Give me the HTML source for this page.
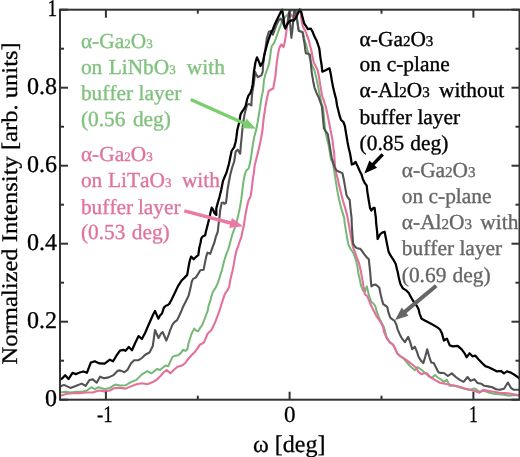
<!DOCTYPE html>
<html><head><meta charset="utf-8"><style>
html,body{margin:0;padding:0;background:#fff;}
svg{display:block;}
text{font-family:"Liberation Serif","DejaVu Serif",serif;font-kerning:none;text-rendering:geometricPrecision;stroke-width:0.35px;}
.lab text{stroke-width:0.3px;}
</style></head><body>
<svg width="520" height="457" viewBox="0 0 520 457">
<rect width="520" height="457" fill="#fff"/>
<g fill="none" stroke-linejoin="round" stroke-linecap="round">
<polyline points="60.7,392.5 65.2,391.8 70.5,392.5 77.0,391.8 82.3,391.8 86.9,390.5 91.5,387.2 94.8,389.2 98.7,387.2 104.6,389.2 109.9,387.9 115.1,384.6 120.0,385.5 125.5,385.3 130.9,382.1 136.4,379.9 141.9,374.4 147.4,371.1 151.7,373.3 157.2,368.9 160.0,370.0 163.3,367.3 165.5,365.6 168.2,366.2 170.4,361.3 172.6,356.9 175.3,355.8 178.1,355.2 180.8,353.1 183.0,349.8 185.7,350.9 187.4,349.2 188.4,343.8 190.1,338.3 191.5,334.0 192.8,331.2 194.4,328.6 196.1,330.6 198.1,331.2 200.0,328.0 202.0,325.3 204.0,320.7 205.9,315.5 207.9,310.2 208.4,306.4 210.2,301.2 211.5,295.9 212.8,292.0 215.4,288.1 218.0,282.8 220.0,276.2 222.0,269.7 223.9,261.8 225.9,255.2 228.0,250.0 229.5,245.1 231.2,238.6 232.7,233.3 234.7,228.1 236.7,221.5 238.3,214.9 240.0,207.1 241.3,199.2 242.4,190.0 243.5,181.2 244.8,174.6 246.2,170.7 248.8,168.1 250.1,162.8 251.4,154.9 252.7,145.7 254.0,137.9 256.1,130.0 257.6,122.5 258.9,114.6 260.2,106.7 261.5,97.6 263.1,90.0 264.0,80.0 265.5,74.0 266.6,71.0 268.8,64.9 270.1,57.0 271.0,50.0 271.8,45.8 273.7,43.7 275.8,38.8 277.9,32.5 280.0,26.9 282.1,21.3 284.2,18.5 286.3,15.7 288.4,13.6 290.5,11.0 292.0,10.5 294.0,10.5 296.0,14.0 297.5,22.0 298.5,30.0 300.7,31.5 303.0,33.0 304.5,40.0 305.9,44.0 307.2,49.2 308.5,53.2 310.5,61.1 312.4,66.3 314.4,70.2 316.4,78.1 317.7,84.7 319.0,91.2 320.3,97.8 321.6,104.0 323.2,107.9 323.9,115.7 324.5,122.3 325.2,130.2 326.5,136.7 328.5,144.6 329.8,152.5 331.1,160.0 332.6,162.0 333.9,168.5 335.2,177.7 336.5,185.6 337.8,193.4 339.2,200.0 341.1,207.9 343.1,214.4 344.2,218.0 344.6,222.6 345.9,230.4 347.2,238.3 348.5,244.9 350.5,248.8 352.4,251.4 354.4,255.4 356.4,261.9 357.7,268.5 358.5,274.0 359.6,278.6 360.9,285.1 362.9,290.4 364.8,291.7 366.8,286.4 368.1,291.7 369.4,296.9 371.4,302.2 373.4,303.5 375.3,306.1 376.7,311.4 378.6,316.6 381.2,321.9 383.9,327.1 386.6,337.0 389.8,342.0 393.1,344.7 395.1,348.6 397.1,353.2 399.7,355.8 403.0,357.8 406.2,361.7 410.2,366.3 414.8,370.3 417.4,367.0 419.4,368.3 422.0,370.3 425.9,373.6 429.2,376.8 432.5,377.5 435.1,374.9 437.7,377.5 440.0,378.8 443.9,381.9 446.9,379.9 449.8,385.8 454.8,385.8 459.7,386.8 464.6,388.8 469.5,389.8 474.5,388.4 479.4,391.7 484.3,390.7 489.2,392.7 494.2,393.7 499.1,394.3 504.0,394.7 508.9,395.7 514.8,395.1 520.0,395.7" stroke="#74b874" stroke-width="2.0"/>
<polyline points="60.7,395.8 66.6,393.8 73.1,393.1 79.7,393.1 86.2,392.5 92.8,392.5 98.7,390.5 104.6,391.4 109.9,390.5 113.8,388.3 120.0,387.7 125.5,388.6 130.9,386.4 136.4,384.2 141.9,383.2 147.4,384.2 152.8,382.1 157.0,379.5 160.0,376.6 163.3,372.7 166.6,370.0 170.4,373.3 173.7,370.0 177.5,366.7 181.9,365.6 185.3,363.0 188.0,359.2 191.0,355.8 194.5,352.3 197.7,348.1 200.0,344.4 202.0,343.7 204.0,342.4 205.9,337.8 207.2,334.5 208.6,332.6 210.5,331.2 211.8,329.3 213.8,325.3 215.8,320.7 217.7,315.5 219.7,310.2 221.2,305.0 222.0,302.5 223.9,296.6 225.2,293.3 227.2,290.7 229.2,286.7 230.5,278.9 232.5,271.0 233.8,264.4 235.1,256.6 236.6,250.0 237.7,247.7 239.3,242.5 241.3,237.2 242.6,230.7 243.9,225.4 244.8,218.9 245.9,212.3 247.2,205.7 248.5,200.5 250.5,196.6 251.6,190.0 252.7,179.9 253.8,173.3 254.7,165.4 255.7,161.5 257.3,154.9 259.3,147.1 261.2,137.9 262.5,130.0 263.5,119.9 264.8,110.7 266.1,102.8 267.4,96.2 268.7,91.0 270.6,89.8 273.2,88.5 274.4,82.0 275.4,76.2 276.7,63.1 278.0,54.4 279.3,47.9 281.4,44.4 283.5,47.2 284.9,41.6 286.3,31.8 287.7,21.0 288.7,14.7 290.1,13.7 291.5,15.6 293.5,16.6 295.4,13.7 297.3,10.8 299.2,9.9 300.7,13.7 301.7,21.4 303.1,27.2 305.0,30.1 306.9,34.9 308.9,40.6 310.1,46.0 311.1,49.2 312.4,55.8 313.7,62.4 315.7,66.3 317.7,70.2 319.0,76.8 320.0,83.4 321.0,89.9 322.3,96.5 324.2,101.7 324.9,104.0 325.8,106.6 327.2,113.1 328.5,119.7 329.8,126.2 331.1,132.8 332.4,139.4 333.1,145.9 334.1,152.5 334.5,159.0 335.0,166.0 335.9,172.4 337.8,179.0 339.2,185.6 341.1,193.4 343.1,201.3 345.1,207.9 347.1,215.0 348.5,222.6 349.6,229.1 350.8,235.7 352.0,242.2 353.1,247.5 355.1,252.7 357.0,258.0 359.0,263.2 360.6,269.8 361.5,275.0 362.2,278.6 363.5,286.4 364.8,294.3 366.8,295.6 368.8,299.6 370.7,304.8 373.4,310.1 376.0,315.3 378.6,319.2 381.2,323.2 383.2,327.1 383.9,331.6 386.6,338.1 389.8,342.7 393.1,344.7 395.1,348.6 397.1,353.2 399.7,355.8 403.0,357.8 406.2,359.8 409.5,362.4 412.8,365.0 416.1,367.7 418.7,372.2 421.3,374.2 424.6,372.9 427.2,373.6 429.9,376.8 433.1,378.8 436.4,380.8 440.0,382.7 444.9,383.8 449.8,384.8 454.8,385.8 459.7,387.2 464.6,388.4 469.5,389.8 474.5,390.7 479.4,392.7 483.3,389.8 489.2,391.1 494.2,391.7 499.1,392.7 505.0,393.1 510.9,393.7 516.8,394.7 520.0,395.1" stroke="#e3709b" stroke-width="2.1"/>
<polyline points="60.7,386.2 63.9,384.9 70.5,387.9 75.7,386.0 81.7,383.6 85.6,385.9 89.5,380.0 92.8,379.4 96.7,382.7 100.0,376.7 104.0,378.3 108.6,377.4 113.1,375.4 117.7,370.8 120.0,370.4 124.4,372.2 127.7,369.6 130.9,363.5 134.2,360.2 138.6,360.2 141.9,358.0 145.2,354.7 149.5,352.5 152.8,346.0 155.0,330.0 158.5,338.0 161.0,333.5 162.6,332.0 164.6,336.5 166.3,340.6 168.5,335.2 170.5,329.3 172.5,324.7 174.4,322.1 177.1,320.1 179.0,316.2 181.7,310.2 183.2,306.4 185.9,301.2 188.5,295.9 190.5,288.1 191.8,281.5 193.1,278.9 195.7,277.6 198.3,273.6 200.3,270.3 203.6,269.7 204.9,263.1 206.2,256.6 207.5,252.6 210.2,253.9 211.6,250.0 212.4,247.7 214.4,242.5 215.7,237.2 217.7,232.0 218.6,224.1 219.6,216.2 220.3,209.7 221.6,203.1 223.6,202.5 224.2,203.8 225.9,203.1 226.8,196.6 227.5,190.0 228.7,183.0 230.3,174.6 232.3,167.0 234.2,161.5 235.7,151.5 237.6,149.7 240.2,153.6 240.9,144.4 241.6,137.9 242.3,130.0 243.2,122.5 244.5,114.6 245.8,109.4 247.1,104.8 249.1,104.1 251.4,105.4 251.7,98.9 252.3,92.3 253.7,84.4 255.2,72.0 256.0,74.0 257.9,77.1 261.4,75.4 262.7,71.9 263.1,64.9 264.0,57.0 265.3,50.0 266.7,38.8 268.8,31.8 270.9,31.1 273.0,34.6 274.4,30.4 276.5,24.8 278.6,20.6 280.7,18.5 282.5,22.0 284.2,26.2 285.6,29.0 287.7,23.4 289.1,12.5 290.1,23.3 291.4,37.8 292.5,29.1 294.0,11.8 295.4,10.8 296.8,17.5 297.8,25.2 298.8,31.0 300.7,31.5 302.6,32.0 303.6,38.7 304.6,44.0 305.2,49.2 305.9,53.2 307.8,53.8 309.8,54.5 310.5,59.7 311.1,66.3 311.8,72.9 313.1,80.7 314.4,87.3 316.4,92.6 318.3,96.5 319.7,100.4 321.0,104.0 321.9,106.6 322.6,114.4 323.2,121.0 323.9,128.2 325.8,131.5 327.8,134.1 329.1,142.0 330.4,149.9 331.7,157.7 332.4,160.0 333.5,164.0 334.6,167.2 336.5,170.5 339.2,171.8 342.4,173.1 343.7,179.0 345.1,186.9 346.4,194.7 347.7,197.4 349.7,200.0 350.3,206.6 351.0,213.1 351.6,218.0 351.8,225.2 352.4,234.4 353.1,243.6 355.1,246.8 357.0,248.2 360.3,248.8 362.3,251.4 364.2,254.1 366.2,256.7 368.8,259.3 369.5,265.9 370.2,272.4 370.7,278.6 371.4,286.4 373.4,285.1 375.3,284.5 377.3,285.8 379.3,287.7 380.6,294.3 381.9,299.6 383.2,304.2 385.2,305.5 387.2,306.8 388.5,312.7 390.4,317.9 393.1,319.9 394.4,320.6 396.3,324.5 397.7,329.6 399.7,334.2 401.7,338.1 404.9,342.1 408.2,336.8 410.2,342.1 412.2,349.3 414.8,346.7 416.7,351.2 418.7,357.2 421.3,361.1 423.3,363.1 425.3,356.5 427.2,349.3 429.2,356.5 431.2,362.4 433.8,363.1 436.4,368.3 438.4,372.2 440.0,372.9 443.9,373.0 447.9,376.0 451.8,373.4 455.8,377.0 459.7,379.9 463.6,381.9 467.6,377.0 470.5,380.9 474.5,379.3 477.4,382.9 481.4,383.8 484.3,385.8 488.2,386.4 492.2,387.2 496.1,389.2 500.1,389.8 504.0,388.8 507.9,382.5 510.9,387.8 513.8,389.8 517.8,389.8 520.0,390.0" stroke="#525252" stroke-width="2.1"/>
<polyline points="60.7,379.4 62.6,378.0 65.2,375.2 68.5,379.1 72.5,372.8 75.7,374.1 79.7,372.5 83.6,371.5 86.9,372.8 90.8,362.6 94.8,361.3 99.4,363.4 104.6,363.6 109.9,359.7 113.1,361.3 116.4,355.7 120.0,350.6 123.3,349.9 125.5,350.8 128.8,347.0 132.0,350.3 135.3,342.7 138.6,336.1 141.9,339.0 145.2,332.8 148.4,325.2 152.8,315.3 155.0,310.9 158.3,318.6 160.0,315.5 162.0,313.5 163.9,307.6 165.9,305.7 167.9,305.0 169.2,303.9 171.4,300.0 175.0,292.6 178.0,286.1 179.3,284.1 181.9,280.2 184.6,277.6 187.2,274.9 188.5,267.1 189.8,260.5 191.1,256.6 193.7,259.2 195.7,257.2 198.3,255.2 199.0,250.0 199.3,247.7 200.6,242.5 201.2,238.6 202.6,236.6 205.2,235.3 205.8,232.0 207.2,226.7 209.1,218.9 210.4,213.0 211.7,207.7 213.1,209.7 214.4,213.0 216.3,214.9 216.3,208.4 217.7,203.1 219.6,196.6 221.2,190.0 222.9,181.2 225.0,176.0 226.3,173.3 228.9,164.1 231.6,151.0 234.2,147.1 235.6,142.0 236.3,137.9 237.3,130.0 239.2,122.5 240.5,114.6 241.8,112.0 243.8,109.4 245.8,105.4 247.1,99.5 248.4,95.6 250.4,93.0 251.7,89.0 252.7,84.4 253.9,72.0 255.5,62.0 257.0,57.4 259.0,61.9 260.5,66.0 261.5,64.5 263.1,61.4 264.6,53.5 266.7,45.8 268.8,38.8 270.9,33.2 273.0,29.0 275.1,23.4 277.2,19.2 279.3,15.0 281.4,10.8 282.2,9.6 283.4,17.5 284.3,25.2 285.3,28.1 286.7,25.2 288.2,22.4 290.1,20.9 292.0,20.4 294.0,20.4 295.9,17.5 297.8,13.7 299.7,9.4 301.2,11.8 302.6,17.5 304.1,23.3 306.0,26.2 307.9,29.1 310.8,28.6 312.7,32.0 314.6,36.8 316.6,40.6 318.0,44.5 319.3,48.5 320.3,57.1 321.6,65.0 322.3,71.6 324.2,70.9 326.9,69.6 329.5,68.3 330.8,74.2 332.1,82.1 333.4,88.6 334.7,93.9 336.1,99.1 337.0,105.2 338.3,110.5 339.6,115.7 340.9,119.7 343.6,122.3 344.9,126.2 346.2,134.1 347.5,142.0 348.8,148.6 350.1,153.8 351.0,159.0 351.8,164.5 353.6,163.9 355.6,161.9 357.5,165.9 359.5,170.5 361.5,174.4 362.8,179.0 364.7,182.9 366.7,185.6 367.4,192.1 368.7,200.0 370.0,207.9 371.3,210.5 373.3,207.9 374.6,207.9 375.2,213.1 375.9,218.0 376.1,222.6 377.1,231.7 377.6,239.0 380.0,234.4 382.6,232.4 384.6,231.7 385.9,238.3 387.2,244.9 388.5,251.4 390.5,255.4 393.1,259.3 395.7,263.9 397.1,269.8 397.7,272.0 399.0,278.6 400.3,283.8 402.9,288.4 406.2,290.4 408.8,293.0 410.8,296.9 412.7,300.2 415.0,303.5 416.9,306.0 418.5,309.0 419.5,313.3 421.6,318.8 428.6,322.5 432.5,324.5 437.7,327.6 440.0,329.5 442.0,333.6 443.9,340.5 446.9,338.6 449.8,345.4 452.8,346.4 457.7,345.8 461.7,349.4 464.6,353.3 466.6,357.3 469.5,353.3 472.5,356.3 475.4,355.7 478.4,359.2 482.3,363.2 485.3,366.1 489.2,367.5 493.2,369.5 497.1,371.4 501.0,371.0 504.0,373.4 507.0,371.4 510.9,372.6 514.8,375.0 518.8,377.9 520.0,379.0" stroke="#000" stroke-width="2.25"/>
</g>
<g stroke="#333" stroke-width="2" fill="none">
<rect x="60" y="9.7" width="459.5" height="390"/>
<line x1="60" y1="399.7" x2="68" y2="399.7"/>
<line x1="519.5" y1="399.7" x2="511.5" y2="399.7"/>
<line x1="60" y1="360.7" x2="64" y2="360.7"/>
<line x1="519.5" y1="360.7" x2="515.5" y2="360.7"/>
<line x1="60" y1="321.7" x2="68" y2="321.7"/>
<line x1="519.5" y1="321.7" x2="511.5" y2="321.7"/>
<line x1="60" y1="282.7" x2="64" y2="282.7"/>
<line x1="519.5" y1="282.7" x2="515.5" y2="282.7"/>
<line x1="60" y1="243.7" x2="68" y2="243.7"/>
<line x1="519.5" y1="243.7" x2="511.5" y2="243.7"/>
<line x1="60" y1="204.7" x2="64" y2="204.7"/>
<line x1="519.5" y1="204.7" x2="515.5" y2="204.7"/>
<line x1="60" y1="165.7" x2="68" y2="165.7"/>
<line x1="519.5" y1="165.7" x2="511.5" y2="165.7"/>
<line x1="60" y1="126.7" x2="64" y2="126.7"/>
<line x1="519.5" y1="126.7" x2="515.5" y2="126.7"/>
<line x1="60" y1="87.7" x2="68" y2="87.7"/>
<line x1="519.5" y1="87.7" x2="511.5" y2="87.7"/>
<line x1="60" y1="48.7" x2="64" y2="48.7"/>
<line x1="519.5" y1="48.7" x2="515.5" y2="48.7"/>
<line x1="60" y1="9.7" x2="68" y2="9.7"/>
<line x1="519.5" y1="9.7" x2="511.5" y2="9.7"/>
<line x1="105.9" y1="399.7" x2="105.9" y2="391.7"/>
<line x1="105.9" y1="9.7" x2="105.9" y2="17.7"/>
<line x1="197.8" y1="399.7" x2="197.8" y2="395.7"/>
<line x1="197.8" y1="9.7" x2="197.8" y2="13.7"/>
<line x1="289.6" y1="399.7" x2="289.6" y2="391.7"/>
<line x1="289.6" y1="9.7" x2="289.6" y2="17.7"/>
<line x1="381.5" y1="399.7" x2="381.5" y2="395.7"/>
<line x1="381.5" y1="9.7" x2="381.5" y2="13.7"/>
<line x1="473.4" y1="399.7" x2="473.4" y2="391.7"/>
<line x1="473.4" y1="9.7" x2="473.4" y2="17.7"/>
</g>
<g class="lab"><text transform="translate(57,16.3) scale(0.8,1.0)" font-size="24" fill="#000" stroke="#000" text-anchor="end">1</text>
<text transform="translate(57,94.1)" font-size="24" fill="#000" stroke="#000" text-anchor="end">0.8</text>
<text transform="translate(57,172.1)" font-size="24" fill="#000" stroke="#000" text-anchor="end">0.6</text>
<text transform="translate(57,250.1)" font-size="24" fill="#000" stroke="#000" text-anchor="end">0.4</text>
<text transform="translate(57,328.1)" font-size="24" fill="#000" stroke="#000" text-anchor="end">0.2</text>
<text transform="translate(57,406.3)" font-size="24" fill="#000" stroke="#000" text-anchor="end">0</text>
<text transform="translate(104.8,421.8) scale(0.8,1.0)" font-size="23.5" fill="#000" stroke="#000" text-anchor="middle">-1</text>
<text transform="translate(289.8,421.6)" font-size="23" fill="#000" stroke="#000" text-anchor="middle">0</text>
<text transform="translate(473.5,421.8) scale(0.75,1.0)" font-size="23.5" fill="#000" stroke="#000" text-anchor="middle">1</text>
<text transform="translate(289.2,451.8)" font-size="24" fill="#000" stroke="#000" text-anchor="middle">ω [deg]</text>
<text transform="translate(17,203.3) scale(1,1.1) rotate(-90)" font-size="22.35" fill="#000" stroke="#000" text-anchor="middle">Normalized Intensity [arb. units]</text></g>
<text transform="translate(80.9,48.3)" font-size="21.4" fill="#80c27e" stroke="#80c27e">α-Ga<tspan font-size="13">2</tspan>O<tspan font-size="13">3</tspan></text>
<text transform="translate(80.9,74.2)" font-size="21.4" fill="#80c27e" stroke="#80c27e">on <tspan dx="1.0">LiNbO</tspan><tspan font-size="13">3</tspan>&#160; <tspan dx="0.4">with</tspan></text>
<text transform="translate(80.9,100.2)" font-size="21.4" fill="#80c27e" stroke="#80c27e">buffer layer</text>
<text transform="translate(80.9,125.6)" font-size="21.4" fill="#80c27e" stroke="#80c27e">(0.56 <tspan dx="2.1">deg)</tspan></text>
<text transform="translate(80.9,160.5)" font-size="21.4" fill="#e0739f" stroke="#e0739f">α-Ga<tspan font-size="13">2</tspan>O<tspan font-size="13">3</tspan></text>
<text transform="translate(80.9,186.7)" font-size="21.4" fill="#e0739f" stroke="#e0739f">on <tspan dx="0.3">LiTaO</tspan><tspan font-size="13">3</tspan>&#160; <tspan dx="-0.3">with</tspan></text>
<text transform="translate(80.9,213.7)" font-size="21.4" fill="#e0739f" stroke="#e0739f">buffer <tspan dx="-0.6">layer</tspan></text>
<text transform="translate(80.9,239.4)" font-size="21.4" fill="#e0739f" stroke="#e0739f">(0.53 <tspan dx="0.9">deg)</tspan></text>
<text transform="translate(359.6,45.6)" font-size="21.4" fill="#000" stroke="#000">α-Ga<tspan font-size="15">2</tspan>O<tspan font-size="15">3</tspan></text>
<text transform="translate(359.6,71.2)" font-size="21.4" fill="#000" stroke="#000">on <tspan dx="0.4">c-plane</tspan></text>
<text transform="translate(359.6,97.4)" font-size="21.4" fill="#000" stroke="#000">α-Al<tspan font-size="15">2</tspan>O<tspan font-size="15">3</tspan> <tspan dx="3.8">without</tspan></text>
<text transform="translate(359.6,123.6)" font-size="21.4" fill="#000" stroke="#000">buffer <tspan dx="0.2">layer</tspan></text>
<text transform="translate(359.6,149.5)" font-size="21.4" fill="#000" stroke="#000">(0.85 <tspan dx="0.8">deg)</tspan></text>
<text transform="translate(401.8,177.4)" font-size="21.4" fill="#666666" stroke="#666666">α-Ga<tspan font-size="15">2</tspan>O<tspan font-size="15">3</tspan></text>
<text transform="translate(401.8,203.2)" font-size="21.4" fill="#666666" stroke="#666666">on c-plane</text>
<text transform="translate(401.8,228.8)" font-size="21.4" fill="#666666" stroke="#666666">α-Al<tspan font-size="15">2</tspan>O<tspan font-size="15">3</tspan> <tspan dx="3">with</tspan></text>
<text transform="translate(401.8,255.4)" font-size="21.4" fill="#666666" stroke="#666666">buffer layer</text>
<text transform="translate(401.8,281.5)" font-size="21.4" fill="#666666" stroke="#666666">(0.69 <tspan dx="0.8">deg)</tspan></text>
<line x1="190.7" y1="99.5" x2="246.1" y2="124.3" stroke="#7ccd70" stroke-width="3.4"/><polygon points="256.1,128.8 242.1,128.3 246.4,118.6" fill="#7ccd70"/><line x1="184.3" y1="210.8" x2="232.5" y2="223.5" stroke="#ee77a4" stroke-width="3.4"/><polygon points="243.1,226.3 229.2,228.1 231.9,217.9" fill="#ee77a4"/><line x1="382.7" y1="154.3" x2="371.9" y2="165.6" stroke="#000" stroke-width="3.4"/><polygon points="364.3,173.6 369.4,160.5 377.1,167.8" fill="#000"/><line x1="436.2" y1="285.7" x2="403.6" y2="312.9" stroke="#666" stroke-width="4"/><polygon points="395.1,319.9 401.7,307.5 408.5,315.7" fill="#666"/>
</svg>
</body></html>
